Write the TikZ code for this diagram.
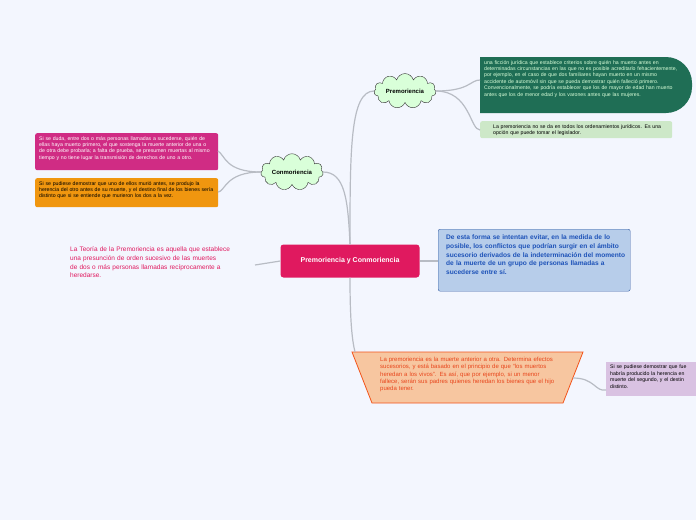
\documentclass[tikz,border=0pt]{standalone}
\usepackage{fontspec}
\setmainfont{Liberation Sans}
\usetikzlibrary{shapes.symbols,shapes.geometric}
\definecolor{bg}{HTML}{F3F6FE}
\definecolor{lnk}{HTML}{B8BCC4}
\definecolor{mag}{HTML}{E0195F}
\definecolor{dgreen}{HTML}{1F6E55}
\definecolor{lgreen}{HTML}{CDE8C8}
\definecolor{pinkb}{HTML}{D02C84}
\definecolor{orab}{HTML}{F0960F}
\definecolor{blfill}{HTML}{B7CDEA}
\definecolor{blline}{HTML}{3A62A6}
\definecolor{blt}{HTML}{1D52B8}
\definecolor{trf}{HTML}{F7C6A0}
\definecolor{trl}{HTML}{F2541B}
\definecolor{trt}{HTML}{E8461C}
\definecolor{purb}{HTML}{D9C2E2}
\tikzset{
 every node/.append style={execute at begin node={\hyphenpenalty=10000\exhyphenpenalty=10000}},
 link/.style={draw=lnk,line width=1.2pt},
 cloudn/.style={cloud,cloud puffs=11,aspect=2.4,draw=black!80,fill=green!15!white,font=\bfseries\fontsize{6}{7}\selectfont,minimum width=62pt,minimum height=26pt,inner sep=1pt},
 txt/.style={font=\fontsize{5.2}{6.4}\selectfont,align=left,anchor=north west,inner sep=0pt}
}
\begin{document}
\begin{tikzpicture}[x=1pt,y=-1pt]
\fill[bg] (0,0) rectangle (696,520);
\useasboundingbox (0,0) rectangle (696,520);
% boxes
\fill[dgreen] (480,57) [rounded corners=26pt] -- (692,57) -- (692,113) [sharp corners] -- (480,113) -- cycle;
\node[txt,text width=195,text=white!85!green] (pd) at (484,60) {una ficción jurídica que establece criterios sobre quién ha muerto antes en determinadas circunstancias en las que no es posible acreditarlo fehacientemente, por ejemplo, en el caso de que dos familiares hayan muerto en un mismo accidente de automóvil sin que se pueda demostrar quién falleció primero. Convencionalmente, se podría establecer que los de mayor de edad han muerto antes que los de menor edad y los varones antes que las mujeres.};
\node[fill=lgreen,rounded corners=2pt,minimum width=192,minimum height=17,anchor=north west] (pl) at (480,121) {};
\node[txt,text width=170] at (493,124) {La premoriencia no se da en todos los ordenamientos jurídicos. Es una opción que puede tomar el legislador.};
\node[fill=pinkb,rounded corners=2pt,minimum width=183,minimum height=37,anchor=north west] (cp) at (35,133) {};
\node[txt,text width=178,text=white] at (39,136) {Si se duda, entre dos o más personas llamadas a sucederse, quién de ellas haya muerto primero, el que sostenga la muerte anterior de una o de otra debe probarla; a falta de prueba, se presumen muertas al mismo tiempo y no tiene lugar la transmisión de derechos de uno a otro.};
\node[fill=orab,rounded corners=2pt,minimum width=183,minimum height=29,anchor=north west] (co) at (35,178) {};
\node[txt,text width=178] at (39,181) {Si se pudiese demostrar que uno de ellos murió antes, se produjo la herencia del otro antes de su muerte, y el destino final de los bienes sería distinto que si se entiende que murieron los dos a la vez.};
\node[txt,text width=168,text=mag,font=\fontsize{6.5}{8.6}\selectfont] (teo) at (70,247) {La Teoría de la Premoriencia es aquella que establece una presunción de orden sucesivo de las muertes de dos o más personas llamadas recíprocamente a heredarse.};
\node[draw=blline,fill=blfill,rounded corners=2pt,minimum width=192,minimum height=62,anchor=north west] (bl) at (438,229) {};
\node[txt,text width=180,text=blt,font=\bfseries\fontsize{6.6}{8.6}\selectfont] at (446,235) {De esta forma se intentan evitar, en la medida de lo posible, los conflictos que podrían surgir en el ámbito sucesorio derivados de la indeterminación del momento de la muerte de un grupo de personas llamadas a sucederse entre sí.};
\draw[draw=trl,fill=trf,line width=0.8pt] (352,352) -- (583,352) -- (563,403) -- (372,403) -- cycle;
\node[txt,text width=180,text=trt,font=\fontsize{6}{7.3}\selectfont] (tr) at (380,357) {La premoriencia es la muerte anterior a otra. Determina efectos sucesorios, y está basado en el principio de que ``los muertos heredan a los vivos''. Es así, que por ejemplo, si un menor fallece, serán sus padres quienes heredan los bienes que el hijo pueda tener.};
\fill[purb] (606,362) rectangle (700,396);
\node[txt,text width=95,font=\fontsize{5.2}{6.4}\selectfont] (pu) at (610,365) {Si se pudiese demostrar que fue\\habría producido la herencia en\\muerte del segundo, y el destin\\distinto.};
% clouds and center
\node[cloudn] (pre) at (405,91) {Premoriencia};
\node[cloudn] (con) at (292,172) {Conmoriencia};
\node[fill=mag,rounded corners=3pt,minimum width=139,minimum height=33,text=white,font=\bfseries\fontsize{7}{8}\selectfont] (c) at (350,261) {Premoriencia y Conmoriencia};
% links
\draw[link] (c.north) .. controls (350,150) and (350,91) .. (pre.west);
\draw[link] (c.north) .. controls (348,200) and (345,172) .. (con.east);
\draw[link] (c.south) .. controls (350,320) and (352,340) .. (355,352);
\draw[link] (c.east) -- (438,261);
\draw[link] (c.west) -- (255,265);
\draw[link] (pre.east) .. controls (470,91) and (470,80) .. (480,80);
\draw[link] (pre.east) .. controls (470,91) and (470,130) .. (480,130);
\draw[link] (con.west) .. controls (225,172) and (225,155) .. (218,151);
\draw[link] (con.west) .. controls (225,172) and (225,192) .. (218,192);
\draw[link] (573,378) .. controls (595,378) and (595,392) .. (606,390);
\end{tikzpicture}
\end{document}
